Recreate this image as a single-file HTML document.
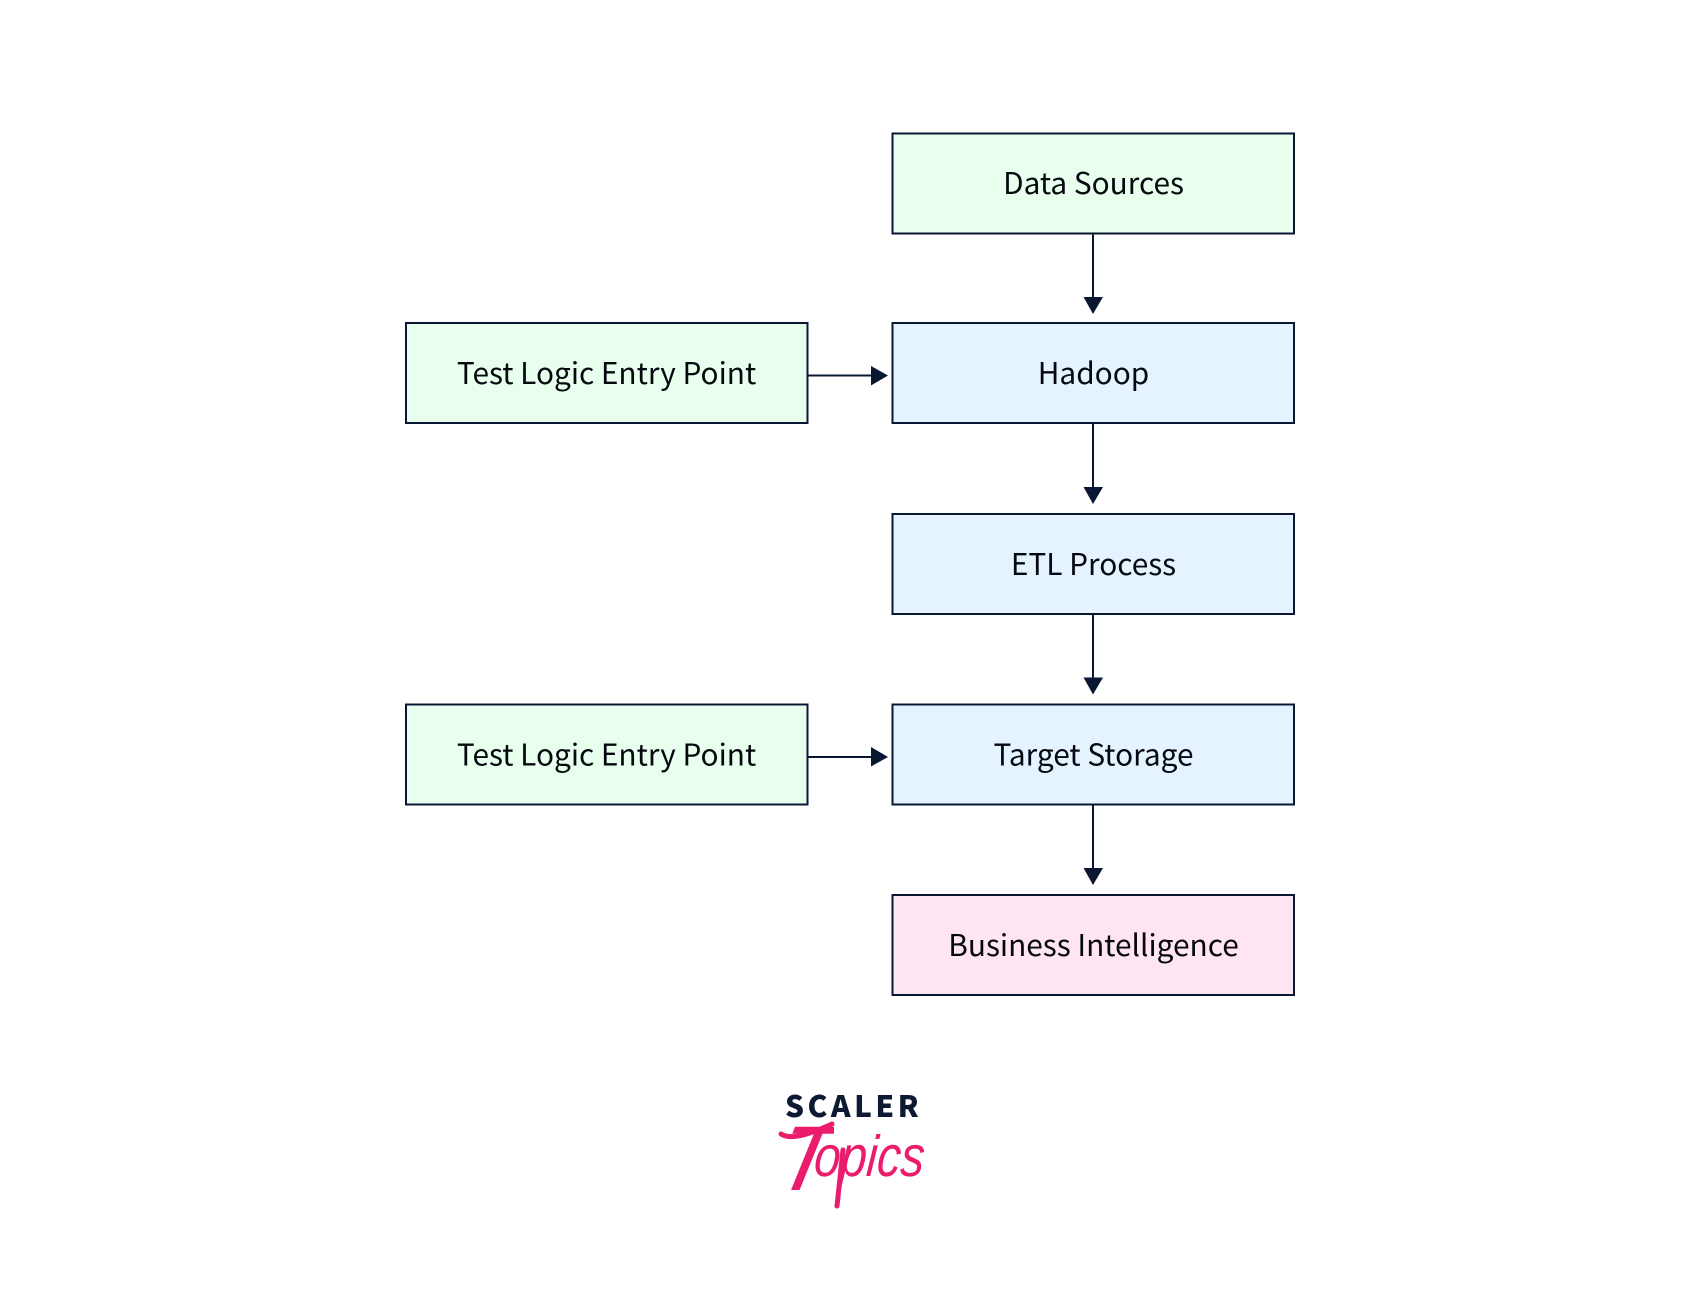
<!DOCTYPE html>
<html><head><meta charset="utf-8"><style>
html,body{margin:0;padding:0;background:#fff;width:1700px;height:1301px;overflow:hidden}
svg{display:block}
.t{font-family:"Noto Sans CJK JP","Liberation Sans",sans-serif;font-size:29.800px;fill:#05080f;text-anchor:middle}
rect{stroke:#0a1733;stroke-width:2}
.l{stroke:#0a1733;stroke-width:2;fill:none}
.h{fill:#0a1733}
</style></head><body>
<svg width="1700" height="1301" viewBox="0 0 1700 1301" xmlns="http://www.w3.org/2000/svg">
<defs><clipPath id="c"><rect x="700" y="1100" width="134" height="120" style="stroke:none"/></clipPath></defs>
<rect x="892.5" y="133.5" width="401.5" height="100" fill="#e7ffec"/>
<rect x="892.5" y="323" width="401.5" height="100" fill="#e4f3ff"/>
<rect x="892.5" y="514" width="401.5" height="100" fill="#e4f3ff"/>
<rect x="892.5" y="704.5" width="401.5" height="100" fill="#e4f3ff"/>
<rect x="892.5" y="895" width="401.5" height="100" fill="#ffe5f2"/>
<rect x="406" y="323" width="401.5" height="100" fill="#e7ffec"/>
<rect x="406" y="704.5" width="401.5" height="100" fill="#e7ffec"/>
<text class="t" x="1093.5" y="194">Data Sources</text>
<text class="t" x="1093.5" y="384">Hadoop</text>
<text class="t" x="1093.5" y="575">ETL Process</text>
<text class="t" x="1093.5" y="765.500">Target Storage</text>
<text class="t" x="1093.5" y="956">Business Intelligence</text>
<text class="t" x="606.500" y="384">Test Logic Entry Point</text>
<text class="t" x="606.500" y="765.500">Test Logic Entry Point</text>
<path class="l" d="M1093 234V299M1093 424V489M1093 614V679M1093 805V870M808 375.500H873M808 757H873"/>
<path class="h" d="M1083.500 297H1103L1093 314ZM1083.500 487H1103L1093 504ZM1083.500 677.500H1103L1093 694.500ZM1083.500 868H1103L1093 885ZM871 366V385.500L888 375.500ZM871 747V766.500L888 757Z"/>
<text x="785" y="1117" font-family="'Noto Sans CJK JP','Liberation Sans',sans-serif" font-weight="900" font-size="29.800" letter-spacing="3.500" fill="#0e1a33">SCALER</text>
<path d="M781 1134C792 1141 812 1133 832 1124" fill="none" stroke="#ec1c6c" stroke-width="5" stroke-linecap="round"/>
<path d="M843 1150L837 1206" fill="none" stroke="#ec1c6c" stroke-width="5" stroke-linecap="round"/>
<g clip-path="url(#c)"><text transform="translate(772,1190) skewX(-12)" font-family="'Liberation Sans',sans-serif" font-style="italic" font-size="92" fill="#ec1c6c">T</text></g>
<text transform="translate(813,1176) skewX(-5)" font-family="'Liberation Sans',sans-serif" font-style="italic" font-size="58" fill="#ec1c6c" textLength="110" lengthAdjust="spacingAndGlyphs">opics</text>
</svg>
</body></html>
